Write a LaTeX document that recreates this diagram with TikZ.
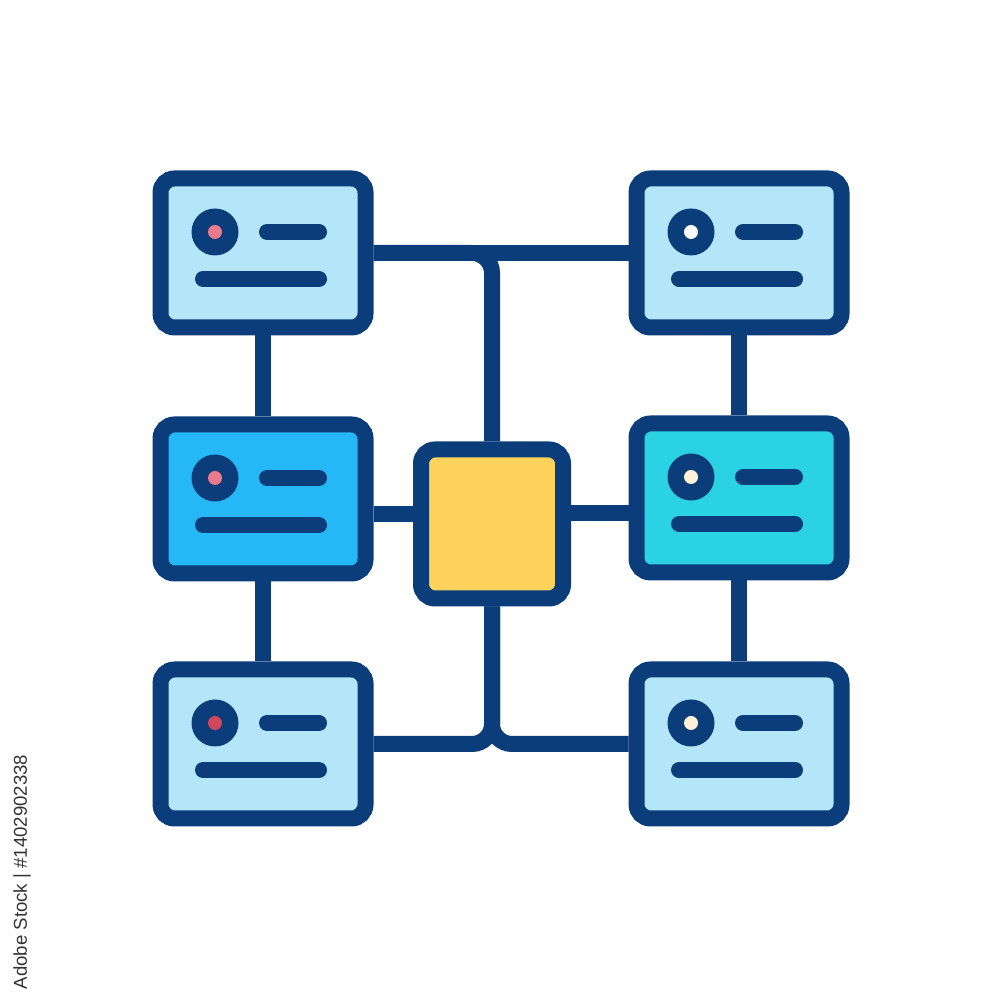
\documentclass[tikz,border=0pt]{standalone}
\usepackage{fontspec}
\setmainfont{Liberation Sans}
\usetikzlibrary{positioning,calc}

\definecolor{navy}{HTML}{0B3D7A}
\definecolor{cardlight}{HTML}{B3E6F8}
\definecolor{cardblue}{HTML}{26B7F6}
\definecolor{cardcyan}{HTML}{2AD2E4}
\definecolor{hubyellow}{HTML}{FDD35B}
\definecolor{dotpink}{HTML}{EA7A8C}
\definecolor{dotred}{HTML}{D0475E}
\definecolor{dotcream}{HTML}{FDF1D8}

\tikzset{
  card/.style={draw=navy, line width=1.6mm, rounded corners=1.4mm,
    minimum width=2.05cm, minimum height=1.49cm, inner sep=0pt},
  hub/.style={card, fill=hubyellow, minimum width=1.42cm},
  link/.style={draw=navy, line width=1.6mm},
}

\newcommand{\cardmarks}[2]{%
  \fill[navy] ($(#1)+(-0.48,0.21)$) circle (0.235);
  \fill[#2] ($(#1)+(-0.48,0.21)$) circle (0.07);
  \draw[link, line cap=round] ($(#1)+(0.04,0.21)$) -- ($(#1)+(0.56,0.21)$);
  \draw[link, line cap=round] ($(#1)+(-0.60,-0.26)$) -- ($(#1)+(0.56,-0.26)$);
}

\begin{document}
\begin{tikzpicture}
  \useasboundingbox (0,0) rectangle (10,10);

  \node[card, fill=cardlight] (TL) at (2.63, 7.47) {};
  \node[card, fill=cardlight] (TR) at (7.39, 7.47) {};
  \node[card, fill=cardblue]  (ML) at (2.63, 5.01) {};
  \node[card, fill=cardcyan]  (MR) at (7.39, 5.02) {};
  \node[card, fill=cardlight] (BL) at (2.63, 2.56) {};
  \node[card, fill=cardlight] (BR) at (7.39, 2.56) {};
  \node[hub] (C) at (4.92, 4.76) {};

  % links between the cards
  \draw[link] (TL.east) -- (TL.east -| TR.west);
  \draw[link, rounded corners=2mm] (TL.east) -| (C.north);
  \draw[link, rounded corners=2mm] (C.south) |- (BL.east);
  \draw[link, rounded corners=2mm] (C.south) |- (BR.west);
  \draw[link] ([yshift=-1.5mm]ML.east) -- ([yshift=-1.5mm]ML.east -| C.west);
  \draw[link] ([yshift=-1.5mm]MR.west -| C.east) -- ([yshift=-1.5mm]MR.west);
  \draw[link] (TL.south) -- (ML.north);
  \draw[link] (ML.south) -- (BL.north);
  \draw[link] (TR.south) -- (MR.north);
  \draw[link] (MR.south) -- (BR.north);

  % marks inside the cards
  \cardmarks{TL}{dotpink}
  \cardmarks{TR}{white}
  \cardmarks{ML}{dotpink}
  \cardmarks{MR}{dotcream}
  \cardmarks{BL}{dotred}
  \cardmarks{BR}{dotcream}

  \node[rotate=90, text=black!80, font=\fontsize{5.3}{6}\selectfont, inner sep=0pt]
    (wm) at (0.22, 1.28) {Adobe Stock | \#1402902338};
\end{tikzpicture}
\end{document}
